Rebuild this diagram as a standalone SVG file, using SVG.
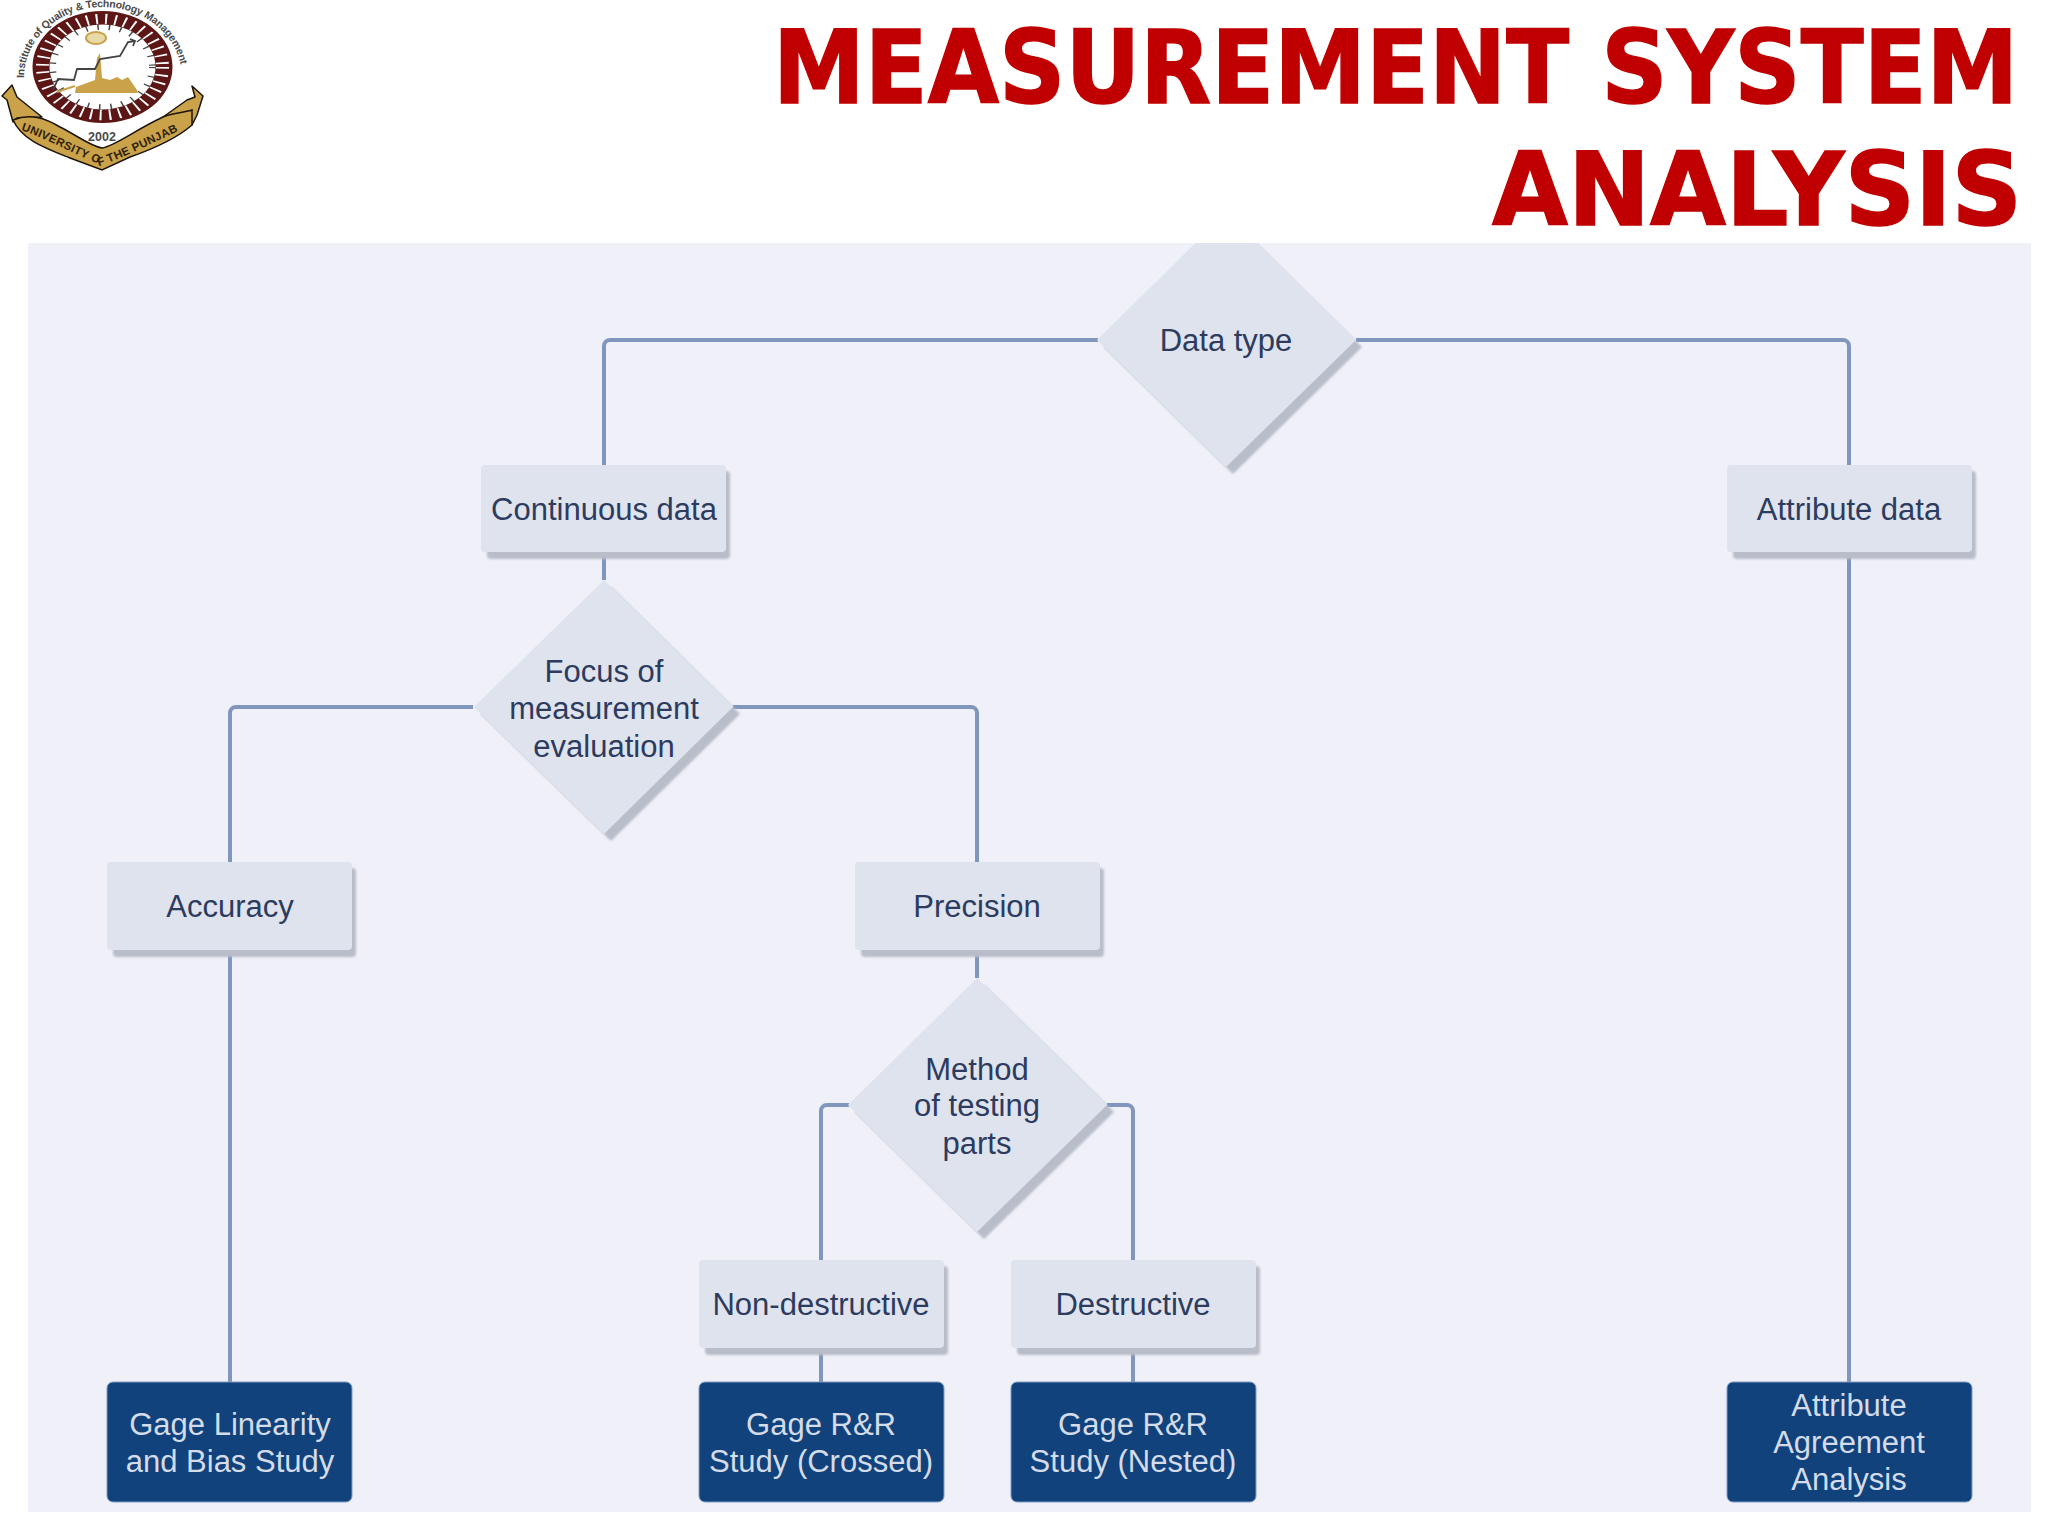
<svg xmlns="http://www.w3.org/2000/svg" xmlns:xlink="http://www.w3.org/1999/xlink" width="2048" height="1536" viewBox="0 0 2048 1536">
<defs>
<style>
.title{font-family:"DejaVu Sans",sans-serif;font-weight:700;font-size:101px;fill:#c00000;stroke:#c00000;stroke-width:1.500}
.lbl{font-family:"Liberation Sans",Arial,sans-serif;font-size:31px;fill:#2c3b5e;text-anchor:middle}
.lbl.w{fill:#d4dbe9}
.box{fill:#dfe3ee}
.sh{fill:#b9bdc9;filter:url(#soft)}
.dk{fill:#11427c;stroke:#7f9cc4;stroke-width:1}
.con{fill:none;stroke:#8196bd;stroke-width:4}
.logo{font-family:"Liberation Sans",Arial,sans-serif;font-weight:700;fill:#4a4a4a}
.ban{font-family:"Liberation Sans",Arial,sans-serif;font-weight:700;fill:#2e2106}
</style>
<filter id="soft" x="-10%" y="-10%" width="120%" height="120%"><feGaussianBlur stdDeviation="1"/></filter>
<clipPath id="panel"><rect x="28" y="243" width="2003" height="1269"/></clipPath>
<path id="arcTop" d="M24 78 A79 71 0 0 1 182 78"/>
<path id="arcBan" d="M21 130 C50 140 75 155 102 165 C125 157 155 142 184 128"/>
</defs>
<rect width="2048" height="1536" fill="#fff"/>
<g id="logo">
<path d="M2 96 L12 85 L17 97 L42 117 L17 118 L13 122 L7 100 Z" fill="#c9a24a" stroke="#1d1408" stroke-width="1.500" stroke-linejoin="round"/>
<path d="M203 96 L192 86 L195 97 L187 100 L163 117 L180 117 L192 125 L197 115 Z" fill="#c9a24a" stroke="#1d1408" stroke-width="1.500" stroke-linejoin="round"/>
<path d="M13 120 C30 113 45 118 60 127 C78 136 90 146 102 148 C115 146 135 130 163 117 C172 113 182 113 192 110 L192 125 C175 140 150 150 130 157 L102 170 L70 158 C45 148 22 140 13 120 Z" fill="#c9a24a" stroke="#1d1408" stroke-width="1.500"/>
<g transform="translate(102.500 67) scale(1 .8)">
<circle r="70" fill="#5c1616"/>
<circle r="60" fill="none" stroke="#fff" stroke-width="13" stroke-dasharray="2 7.500"/>
<circle r="53" fill="#fff"/>
<circle r="50" fill="none" stroke="#444" stroke-width="7" stroke-dasharray="1.500 10"/>
<circle r="46" fill="#fff"/>
</g>
<ellipse cx="96" cy="38" rx="10" ry="6" fill="#e8d9a8" stroke="#c9a24a" stroke-width="2"/>
<path d="M75 93 L76 87 L95 80 L97 58 L100 53 L102 78 L110 80 L117 77 L122 80 L128 77 L137 90 L138 93 Z" fill="#c9a24a"/>
<path d="M57 92 L75 86" stroke="#c9a24a" stroke-width="2" fill="none"/>
<path d="M53 90 L58 79 L74 80 L77 69 L95 69 L100 59 L120 56 L128 42 L135 41 M130 39 L135 41 L133 46" fill="none" stroke="#444" stroke-width="1.800"/>
<text class="logo" font-size="12.500" x="102" y="141" text-anchor="middle">2002</text>
<text class="logo" font-size="10.500"><textPath xlink:href="#arcTop" href="#arcTop" textLength="222">Institute of Quality &amp; Technology Management</textPath></text>
<text class="ban" font-size="11.500"><textPath xlink:href="#arcBan" href="#arcBan" textLength="172">UNIVERSITY OF THE PUNJAB</textPath></text>
</g>
<text class="title" transform="translate(773 103) scale(.913 1)">MEASUREMENT SYSTEM</text>
<text class="title" transform="translate(1492 225) scale(.972 1)">ANALYSIS</text>
<rect id="panel-bg" x="28" y="243" width="2003" height="1269" fill="#eff0f8"/>
<g id="connectors">
<path class="con" d="M1098 340H610a6 6 0 0 0-6 6V465"/>
<path class="con" d="M1356 340H1843a6 6 0 0 1 6 6V465"/>
<path class="con" d="M604 552V580"/>
<path class="con" d="M1849 552V1382"/>
<path class="con" d="M473 707H236a6 6 0 0 0-6 6V862"/>
<path class="con" d="M733 707H971a6 6 0 0 1 6 6V862"/>
<path class="con" d="M230 950V1382"/>
<path class="con" d="M977 950V978"/>
<path class="con" d="M849 1105H827a6 6 0 0 0-6 6V1260"/>
<path class="con" d="M1107 1105H1127a6 6 0 0 1 6 6V1260"/>
<path class="con" d="M821 1348V1382"/>
<path class="con" d="M1133 1348V1382"/>
</g>
<g id="n-datatype" clip-path="url(#panel)">
<polygon class="sh" points="1233,220 1362,347 1233,474 1104,347"/>
<polygon class="box" points="1226,213 1356,340 1226,467 1097,340"/>
<text class="lbl" x="1226" y="351">Data type</text>
</g>
<g id="n-continuous">
<rect class="sh" x="487" y="471" width="243" height="88" rx="4"/>
<rect class="box" x="481" y="465" width="245" height="87" rx="4"/>
<text class="lbl" x="604" y="520">Continuous data</text>
</g>
<g id="n-attribute">
<rect class="sh" x="1733" y="471" width="243" height="88" rx="4"/>
<rect class="box" x="1727" y="465" width="245" height="87" rx="4"/>
<text class="lbl" x="1849" y="520">Attribute data</text>
</g>
<g id="n-focus">
<polygon class="sh" points="611,587 740,714 611,841 481,714"/>
<polygon class="box" points="604,580 733,707 604,834 474,707"/>
<text class="lbl" x="604" y="682">Focus of</text>
<text class="lbl" x="604" y="719">measurement</text>
<text class="lbl" x="604" y="757">evaluation</text>
</g>
<g id="n-accuracy">
<rect class="sh" x="113" y="868" width="243" height="89" rx="4"/>
<rect class="box" x="107" y="862" width="245" height="88" rx="4"/>
<text class="lbl" x="230" y="917">Accuracy</text>
</g>
<g id="n-precision">
<rect class="sh" x="861" y="868" width="243" height="89" rx="4"/>
<rect class="box" x="855" y="862" width="245" height="88" rx="4"/>
<text class="lbl" x="977" y="917">Precision</text>
</g>
<g id="n-method">
<polygon class="sh" points="984,985 1114,1112 984,1239 855,1112"/>
<polygon class="box" points="977,978 1107,1105 977,1232 848,1105"/>
<text class="lbl" x="977" y="1080">Method</text>
<text class="lbl" x="977" y="1116">of testing</text>
<text class="lbl" x="977" y="1154">parts</text>
</g>
<g id="n-nondestructive">
<rect class="sh" x="705" y="1266" width="243" height="89" rx="4"/>
<rect class="box" x="699" y="1260" width="245" height="88" rx="4"/>
<text class="lbl" x="821" y="1315">Non-destructive</text>
</g>
<g id="n-destructive">
<rect class="sh" x="1017" y="1266" width="243" height="89" rx="4"/>
<rect class="box" x="1011" y="1260" width="245" height="88" rx="4"/>
<text class="lbl" x="1133" y="1315">Destructive</text>
</g>
<g id="n-linearity">
<rect class="dk" x="107" y="1382" width="245" height="120" rx="6"/>
<text class="lbl w" x="230" y="1435">Gage Linearity</text>
<text class="lbl w" x="230" y="1472">and Bias Study</text>
</g>
<g id="n-crossed">
<rect class="dk" x="699" y="1382" width="245" height="120" rx="6"/>
<text class="lbl w" x="821" y="1435">Gage R&amp;R</text>
<text class="lbl w" x="821" y="1472">Study (Crossed)</text>
</g>
<g id="n-nested">
<rect class="dk" x="1011" y="1382" width="245" height="120" rx="6"/>
<text class="lbl w" x="1133" y="1435">Gage R&amp;R</text>
<text class="lbl w" x="1133" y="1472">Study (Nested)</text>
</g>
<g id="n-agreement">
<rect class="dk" x="1727" y="1382" width="245" height="120" rx="6"/>
<text class="lbl w" x="1849" y="1416">Attribute</text>
<text class="lbl w" x="1849" y="1453">Agreement</text>
<text class="lbl w" x="1849" y="1490">Analysis</text>
</g>
</svg>
